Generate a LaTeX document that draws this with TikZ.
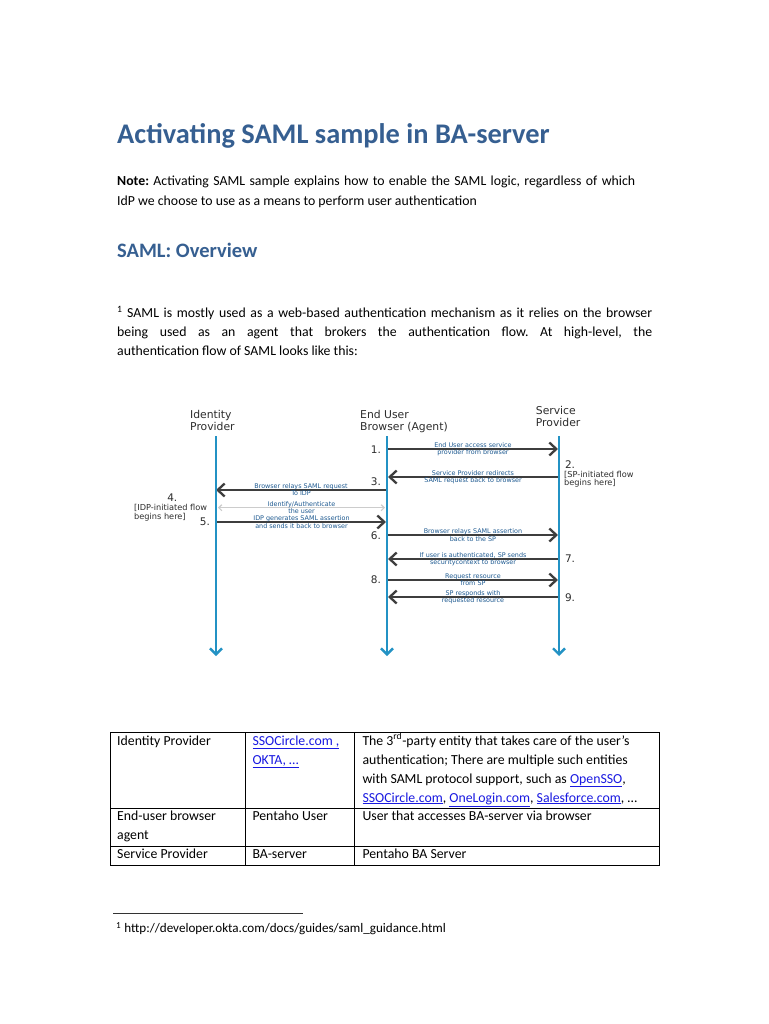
\documentclass[tikz,border=0pt]{standalone}
\usepackage{fontspec}
\setmainfont{Carlito}
\newfontfamily\djfont{DejaVu Sans}
\usetikzlibrary{arrows.meta,calc}
\definecolor{headblue}{RGB}{54,95,145}
\definecolor{lifeblue}{RGB}{35,146,196}
\definecolor{msggray}{RGB}{62,62,62}
\definecolor{lblblue}{RGB}{30,90,145}
\definecolor{linkblue}{RGB}{25,25,225}
\definecolor{hdrgray}{RGB}{45,45,45}
\newcommand{\lnk}[1]{{\color{linkblue}\underline{#1}}}
\frenchspacing
\tikzset{
  txt/.style={anchor=base west, inner sep=0pt, font=\fontsize{13.8}{19}\selectfont},
  head/.style={anchor=base west, inner sep=0pt, text=headblue, font=\bfseries\fontsize{28.4}{32}\selectfont},
  subhead/.style={anchor=base west, inner sep=0pt, text=headblue, font=\bfseries\fontsize{20.5}{24}\selectfont},
  lifehdr/.style={anchor=base west, inner sep=0pt, text=hdrgray, font=\djfont\fontsize{10.8}{12.5}\selectfont},
  num/.style={inner sep=0pt, text=hdrgray, font=\djfont\fontsize{10.5}{12.5}\selectfont},
  note/.style={anchor=base west, inner sep=0pt, text=hdrgray, font=\djfont\fontsize{8.2}{9}\selectfont},
  msglbl/.style={inner sep=0pt, align=center, text=lblblue, font=\djfont\fontsize{6.4}{7.4}\selectfont},
  lifeline/.style={draw=lifeblue, line width=2.4pt, -{Straight Barb[length=6pt,width=12pt]}},
  msgarrow/.style={draw=msggray, line width=2.3pt, -{Straight Barb[length=7pt,width=13pt]}},
  authline/.style={draw=black!20, line width=1.2pt, {Straight Barb[length=3pt,width=6pt]}-{Straight Barb[length=3pt,width=6pt]}},
  tabline/.style={draw=black, line width=0.9pt},
}
\begin{document}
\begin{tikzpicture}[x=1pt,y=-1pt]
\useasboundingbox[fill=white] (0,0) rectangle (768,1024);

% headings and text
\node[head] (title) at (117,143.3) {Activating SAML sample in BA-server};
\node[txt] (note1) at (117,186) {\makebox[518pt][s]{\textbf{Note:} Activating SAML sample explains how to enable the SAML logic, regardless of which}};
\node[txt] (note2) at (117,205.5) {IdP we choose to use as a means to perform user authentication};
\node[subhead] (overview) at (117,258) {SAML: Overview};
\node[txt] (para1) at (117,317.3) {\makebox[535pt][s]{\textsuperscript{1} SAML is mostly used as a web-based authentication mechanism as it relies on the browser}};
\node[txt] (para2) at (117,336.5) {\makebox[535pt][s]{being used as an agent that brokers the authentication flow. At high-level, the}};
\node[txt] (para3) at (117,355.7) {authentication flow of SAML looks like this:};

% lifeline headers
\node[lifehdr] (idph1) at (190,418) {Identity};
\node[lifehdr] (idph2) at (190,430.5) {Provider};
\node[lifehdr] (brh1) at (360,418) {End User};
\node[lifehdr] (brh2) at (360,430.5) {Browser (Agent)};
\node[lifehdr] (sph1) at (535.7,414) {Service};
\node[lifehdr] (sph2) at (535.7,426.5) {Provider};

% lifeline coordinates
\coordinate (idpT) at (216,436);
\coordinate (idpB) at (216,656);
\coordinate (brT) at (387,436);
\coordinate (brB) at (387,656);
\coordinate (spT) at (559,436);
\coordinate (spB) at (559,656);

% message end points
\coordinate (b1) at (388,449);   \coordinate (s1) at (558,449);
\coordinate (s3) at (558,477);   \coordinate (b3) at (388,477);
\coordinate (b3i) at (386,490);  \coordinate (i3) at (216,490);
\coordinate (i4) at (218,507.7); \coordinate (b4) at (385,507.7);
\coordinate (i5) at (217,522);   \coordinate (b5) at (386,522);
\coordinate (b6) at (388,535);   \coordinate (s6) at (558,535);
\coordinate (s7) at (558,559);   \coordinate (b7) at (388,559);
\coordinate (b8) at (388,580);   \coordinate (s8) at (558,580);
\coordinate (s9) at (558,597);   \coordinate (b9) at (388,597);

% messages
\draw[msgarrow] (b1) -- (s1);
\draw[msgarrow] (s3) -- (b3);
\draw[msgarrow] (b3i) -- (i3);
\draw[authline] (i4) -- (b4);
\draw[msgarrow] (i5) -- (b5);
\draw[msgarrow] (b6) -- (s6);
\draw[msgarrow] (s7) -- (b7);
\draw[msgarrow] (b8) -- (s8);
\draw[msgarrow] (s9) -- (b9);

% lifelines
\draw[lifeline] (idpT) -- (idpB);
\draw[lifeline] (brT) -- (brB);
\draw[lifeline] (spT) -- (spB);

% message labels
\node[msglbl] (m1) at ($(b1)!0.5!(s1)$) {End User access service\\provider from browser};
\node[msglbl] (m3) at ($(s3)!0.5!(b3)+(0,0.5)$) {Service Provider redirects\\SAML request back to browser};
\node[msglbl] (m3i) at ($(b3i)!0.5!(i3)+(0,-0.5)$) {Browser relays SAML request\\To IDP};
\node[msglbl] (m4) at ($(i4)!0.5!(b4)$) {Identify/Authenticate\\the user};
\node[msglbl] (m5) at ($(i5)!0.5!(b5)$) {IDP generates SAML assertion\\and sends it back to browser};
\node[msglbl] (m6) at ($(b6)!0.5!(s6)$) {Browser relays SAML assertion\\back to the SP};
\node[msglbl] (m7) at ($(s7)!0.5!(b7)$) {If user is authenticated, SP sends\\securitycontext to browser};
\node[msglbl] (m8) at ($(b8)!0.5!(s8)$) {Request resource\\from SP};
\node[msglbl] (m9) at ($(s9)!0.5!(b9)$) {SP responds with\\requested resource};

% step numbers and notes
\node[num] (n1) at (376,450) {1.};
\node[num] (n2) at (570,465) {2.};
\node[note] (n2a) at (564,477.2) {[SP-initiated flow};
\node[note] (n2b) at (564,485.6) {begins here]};
\node[num] (n3) at (376,482) {3.};
\node[num] (n4) at (172.3,497.7) {4.};
\node[note] (n4a) at (134,510.6) {[IDP-initiated flow};
\node[note] (n4b) at (134,519.6) {begins here]};
\node[num] (n5) at (205,522) {5.};
\node[num] (n6) at (376,536) {6.};
\node[num] (n7) at (570,559) {7.};
\node[num] (n8) at (376,580) {8.};
\node[num] (n9) at (570,598) {9.};

% table
\draw[tabline] (110.7,732.7) rectangle (659,865);
\draw[tabline] (110.7,808.3) -- (659,808.3);
\draw[tabline] (110.7,846.7) -- (659,846.7);
\draw[tabline] (245.7,732.7) -- (245.7,865);
\draw[tabline] (354.3,732.7) -- (354.3,865);

\node[txt] (t11) at (117,745) {Identity Provider};
\node[txt] (t12a) at (252.3,745) {\lnk{SSOCircle.com ,}};
\node[txt] (t12b) at (252.3,764) {\lnk{OKTA, …}};
\node[txt] (t13a) at (362.3,745) {The 3\textsuperscript{rd}-party entity that takes care of the user’s};
\node[txt] (t13b) at (362.3,764) {authentication; There are multiple such entities};
\node[txt] (t13c) at (362.3,783) {with SAML protocol support, such as \lnk{OpenSSO},};
\node[txt] (t13d) at (362.3,802) {\lnk{SSOCircle.com}, \lnk{OneLogin.com}, \lnk{Salesforce.com}, …};
\node[txt] (t21a) at (117,820) {End-user browser};
\node[txt] (t21b) at (117,839) {agent};
\node[txt] (t22) at (252.3,820) {Pentaho User};
\node[txt] (t23) at (362.3,820) {User that accesses BA-server via browser};
\node[txt] (t31) at (117,858) {Service Provider};
\node[txt] (t32) at (252.3,858) {BA-server};
\node[txt] (t33) at (362.3,858) {Pentaho BA Server};

% footnote
\coordinate (fnL) at (113,913.3);
\coordinate (fnR) at (303,913.3);
\draw[draw=black!80, line width=0.8pt] (fnL) -- (fnR);
\node[txt, font=\fontsize{13.1}{15}\selectfont] (fn) at (116,932.7) {\textsuperscript{1} http://developer.okta.com/docs/guides/saml\_guidance.html};
\end{tikzpicture}
\end{document}
